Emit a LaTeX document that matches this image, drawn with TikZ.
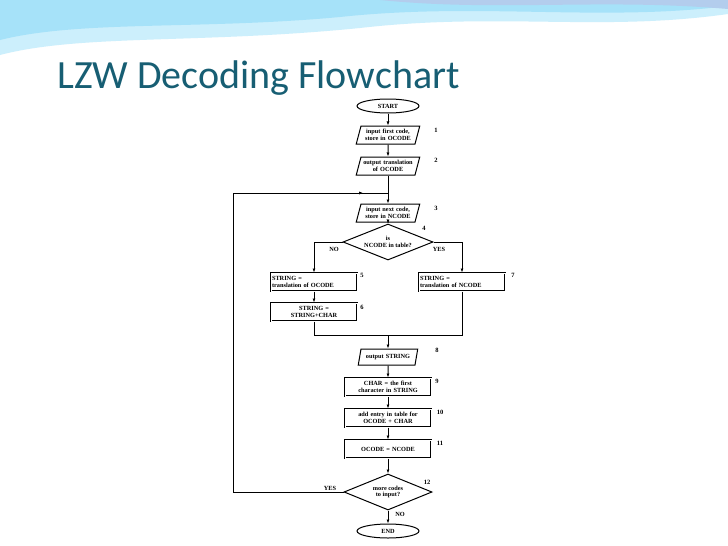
\documentclass[tikz,border=0pt]{standalone}
\usepackage{fontspec}
\setmainfont{Liberation Serif}
\newfontfamily\titlefont{Carlito}
\usetikzlibrary{shapes.geometric,arrows.meta,decorations.markings}
\definecolor{titleblue}{RGB}{23,94,115}
\begin{document}
\begin{tikzpicture}[x=1pt,y=-1pt,
  txt/.style={font=\fontsize{6.3}{6.6}\selectfont\bfseries,align=center,inner sep=1pt},
  io/.style={txt,trapezium,trapezium left angle=70,trapezium right angle=110,trapezium stretches=true,draw,line width=1pt,minimum width=56pt,minimum height=18pt,text width=52pt},
  proc/.style={txt,draw,line width=1pt,double,double distance=0.6pt,minimum width=86pt,minimum height=18pt,text width=82pt},
  term/.style={txt,ellipse,draw,line width=1pt,minimum width=62pt,minimum height=14pt},
  dec/.style={txt,diamond,draw,line width=1pt,aspect=2.5,minimum width=90pt,minimum height=36pt,inner sep=0pt},
  num/.style={font=\fontsize{6.5}{7}\selectfont\bfseries,inner sep=0pt},
  arr/.style={-{Latex[length=4pt,width=3pt]},line width=1pt},
  ln/.style={line width=1pt}]
\useasboundingbox (0,0) rectangle (728,546);
\fill[white] (0,0) rectangle (728,546);
% top waves
\fill[cyan!20] (0,0) -- (728,0) -- (728,14) .. controls (600,32) and (500,12) .. (360,28) .. controls (200,44) and (80,34) .. (0,55) -- cycle;
\fill[cyan!35] (0,0) -- (728,0) -- (728,6) .. controls (600,22) and (480,2) .. (340,17) .. controls (200,30) and (80,20) .. (0,40) -- cycle;
\fill[cyan!60!blue!30] (380,0) .. controls (500,12) and (600,-2) .. (728,9) -- (728,0) -- cycle;
\node[font=\titlefont\fontsize{40}{44}\selectfont,text=titleblue,anchor=base west,inner sep=0pt] (title) at (57,88) {LZW Decoding Flowchart};

\node[term] (start) at (388,106) {START};
\node[io] (b1) at (388,135) {input first code,\\store in OCODE};
\node[io] (b2) at (388,166) {output translation\\of OCODE};
\node[io] (b3) at (388,213) {input next code,\\store in NCODE};
\node[dec] (d4) at (388,242) {is\\NCODE in table?};
\node[proc,text width=84pt,align=left] (b5) at (314,282) {STRING =\\translation of OCODE};
\node[proc] (b6) at (314,312) {STRING =\\STRING+CHAR};
\node[proc,text width=84pt,align=left] (b7) at (462,282) {STRING =\\translation of NCODE};
\node[io,minimum height=16pt] (b8) at (388,357) {output STRING};
\node[proc] (b9) at (388,387) {CHAR = the first\\character in STRING};
\node[proc] (b10) at (388,418) {add entry in table for\\OCODE + CHAR};
\node[proc] (b11) at (388,449) {OCODE = NCODE};
\node[dec,minimum width=88pt] (d12) at (388,492) {more codes\\to input?};
\node[term] (end) at (388,531) {END};

\foreach \n/\x/\y in {1/436/130,2/436/160,3/436/208,4/424/228,5/362/275,6/362/307,7/513/275,8/437/350,9/437/381,10/440/412,11/440/443,12/427/482}
  \node[num] (n\n) at (\x,\y) {\n};
\node[txt] (no4) at (334,249) {NO};
\node[txt] (yes4) at (439,249) {YES};
\node[txt] (yes12) at (330,488) {YES};
\node[txt] (no12) at (400,514) {NO};

\coordinate (m) at (388,335);
\coordinate (lp) at (388,193);
\coordinate (lc) at (233,193);
\draw[arr] (start) -- (b1);
\draw[arr] (b1) -- (b2);
\draw[ln] (b2) -- (lp);
\draw[arr] (lp) -- (b3);
\draw[arr] (b3) -- (d4);
\draw[arr] (d4.west) -| (b5.north);
\draw[arr] (d4.east) -| (b7.north);
\draw[arr] (b5) -- (b6);
\draw[ln] (b6.south) |- (m);
\draw[ln] (b7.south) |- (m);
\draw[arr] (m) -- (b8);
\draw[arr] (b8) -- (b9);
\draw[arr] (b9) -- (b10);
\draw[arr] (b10) -- (b11);
\draw[arr] (b11) -- (d12);
\draw[arr] (d12) -- (end);
\draw[ln] (d12.west) -| (lc);
\draw[ln,postaction={decorate},decoration={markings,mark=at position 0.84 with {\arrow{Latex[length=4pt,width=3pt]}}}] (lc) -- (lp);
\end{tikzpicture}
\end{document}
